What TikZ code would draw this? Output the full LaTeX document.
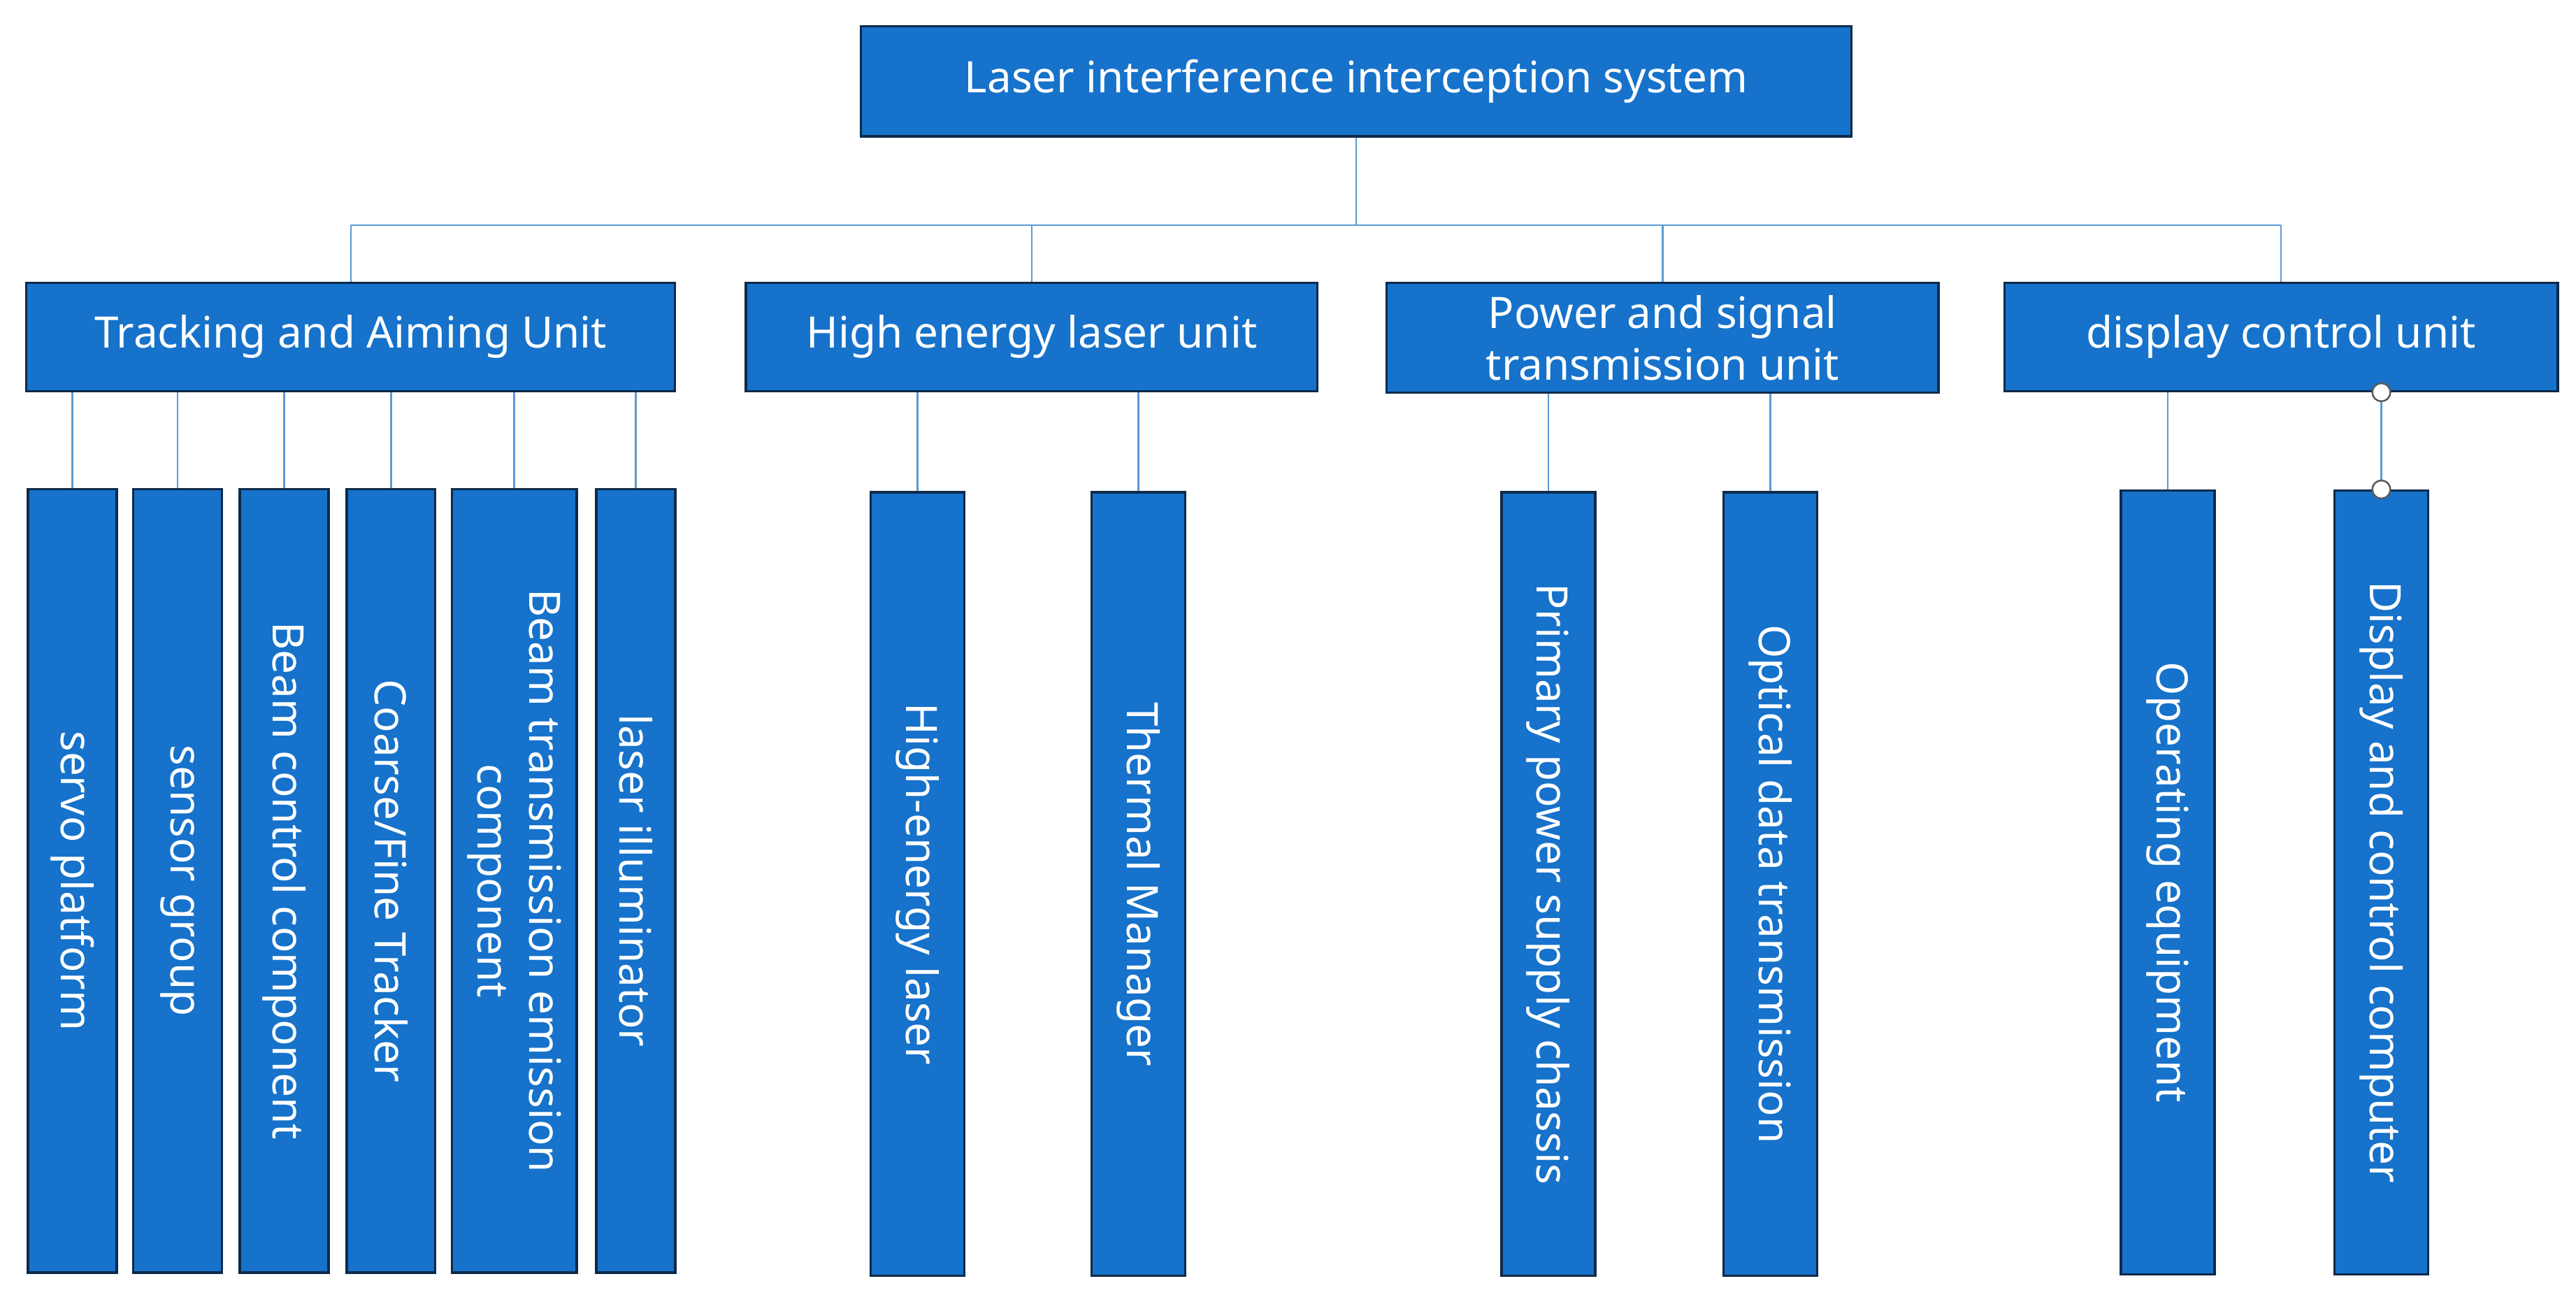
\documentclass[tikz,border=0pt]{standalone}
\usepackage{fontspec}
\setmainfont{Noto Sans}
\usetikzlibrary{positioning}
\definecolor{boxblue}{HTML}{1672CA}
\definecolor{boxedge}{HTML}{0E2A4A}
\definecolor{linkblue}{HTML}{5B9BD5}
\begin{document}
\begin{tikzpicture}[x=0.02cm,y=-0.02cm]
		% Estilos
		\tikzset{
			block/.style={rectangle, draw=boxedge, line width=0.8pt, fill=boxblue, text=white, align=center, inner sep=1pt, font=\fontsize{15}{18}\selectfont},
			leaf/.style={block, rotate=-90, minimum width=9.54cm, minimum height=1.14cm},
			link/.style={draw=linkblue, line width=0.6pt},
			handle/.style={circle, draw=gray!70!black, fill=white, line width=0.6pt, inner sep=0pt, minimum size=0.22cm}
		}
		\useasboundingbox (0,0) rectangle (1568,792);
		% Nós
		\node [block, minimum width=12.06cm, minimum height=1.34cm] (root) at (825.5,49.5) {Laser interference interception system};
		\node [block, minimum width=7.9cm, minimum height=1.32cm] (track) at (213.5,205) {Tracking and Aiming Unit};
		\node [block, minimum width=6.96cm, minimum height=1.32cm] (hel) at (628,205) {High energy laser unit};
		\node [block, minimum width=6.72cm, minimum height=1.34cm] (power) at (1012,205.5) {Power and signal\\transmission unit};
		\node [block, minimum width=6.74cm, minimum height=1.32cm] (disp) at (1388.5,205) {display control unit};
		\node [leaf, minimum height=1.08cm] (servo) at (44,536) {servo platform};
		\node [leaf, minimum height=1.08cm] (sensor) at (108,536) {sensor group};
		\node [leaf, minimum height=1.08cm] (beamctl) at (173,536) {Beam control component};
		\node [leaf, minimum height=1.08cm] (coarse) at (238,536) {Coarse/Fine Tracker};
		\node [leaf, minimum height=1.52cm] (beamtx) at (313,536) {Beam transmission emission\\component};
		\node [leaf, minimum height=0.96cm] (illum) at (387,536) {laser illuminator};
		\node [leaf] (laser) at (558.5,538) {High-energy laser};
		\node [leaf] (thermal) at (693,538) {Thermal Manager};
		\node [leaf] (primary) at (942.5,538) {Primary power supply chassis};
		\node [leaf] (optical) at (1077.5,538) {Optical data transmission};
		\node [leaf] (operate) at (1319.5,537) {Operating equipment};
		\node [leaf] (computer) at (1449.5,537) {Display and control computer};
		\coordinate (busL) at (213.5,137);
		\coordinate (busR) at (1388.5,137);
		% Conexões
		\path [link] (root.south) -- (root.south |- busL);
		\path [link] (busL) -- (busR);
		\foreach \u in {track,hel,power,disp}
			\path [link] (\u.north |- busL) -- (\u.north);
		\foreach \u/\c in {track/servo,track/sensor,track/beamctl,track/coarse,track/beamtx,track/illum,hel/laser,hel/thermal,power/primary,power/optical,disp/operate}
			\path [link] (\c.west |- \u.south) -- (\c.west);
		\path [link] (computer.west |- disp.south) -- (computer.west);
		\node [handle] (h1) at (computer.west |- disp.south) {};
		\node [handle] (h2) at (computer.west) {};
	\end{tikzpicture}
\end{document}
